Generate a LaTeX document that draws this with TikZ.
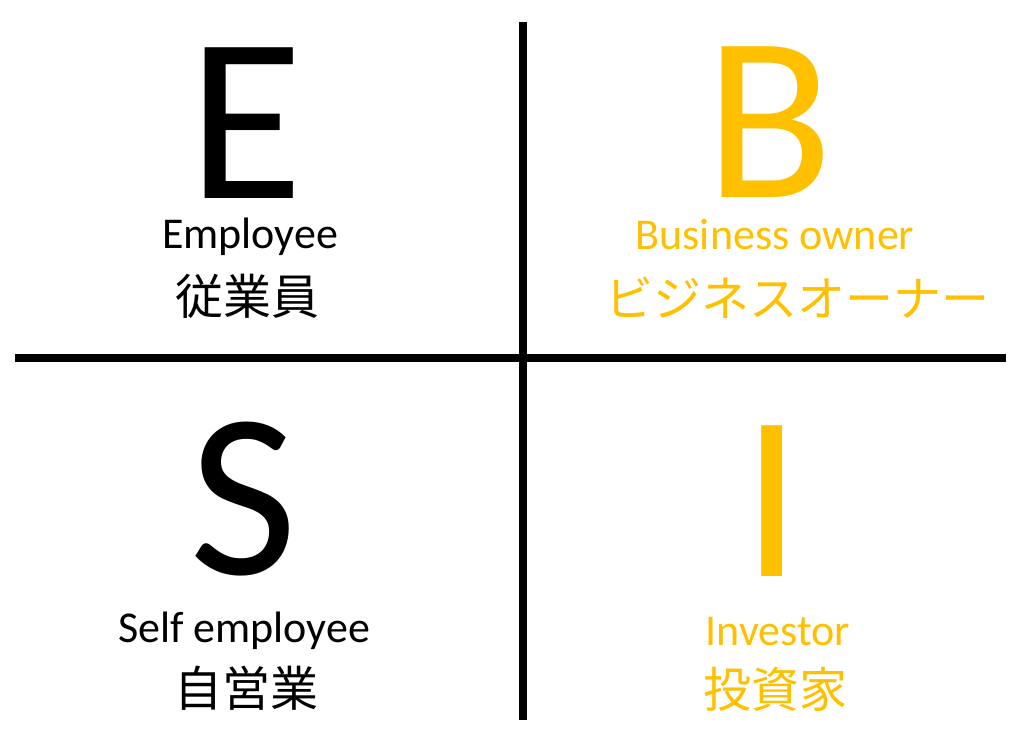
\documentclass[tikz,border=0pt]{standalone}
\usepackage{fontspec}
\setmainfont{Carlito}
\newfontfamily\jpfont{Noto Sans CJK JP}
\definecolor{gold}{HTML}{FFC000}
\begin{document}
\begin{tikzpicture}[x=1pt,y=-1pt,
  bigletter/.style={inner sep=0pt,anchor=base,text depth=0pt,font=\fontsize{235}{235}\selectfont},
  enlabel/.style={inner sep=0pt,anchor=base,font=\fontsize{44}{44}\selectfont},
  jplabel/.style={inner sep=0pt,anchor=center,font=\jpfont\fontsize{48}{48}\selectfont},
  axis/.style={line width=8.5pt}]
\useasboundingbox (0,0) rectangle (1024,741);
% axes
\coordinate (top) at (523,22);
\coordinate (bottom) at (523,720);
\coordinate (left) at (15,358);
\coordinate (right) at (1006,358);
\draw[axis] (top) -- (bottom);
\draw[axis] (left) -- (right);
% E quadrant
\node[bigletter] (E) at (246,198) {E};
\node[enlabel] (Elab) at (250,248) {Employee};
\node[jplabel] (Ejp) at (247,296) {従業員};
% B quadrant
\node[bigletter,text=gold] (B) at (769,197) {B};
\node[enlabel,text=gold] (Blab) at (775,249) {Business owner};
\node[jplabel,text=gold] (Bjp) at (797,298) {ビジネスオーナー};
% S quadrant
\node[bigletter] (S) at (243,574) {S};
\node[enlabel] (Slab) at (244,642) {Self employee};
\node[jplabel] (Sjp) at (246,688) {自営業};
% I quadrant
\node[bigletter,text=gold] (I) at (772,576) {I};
\node[enlabel,text=gold] (Ilab) at (778,645) {Investor};
\node[jplabel,text=gold] (Ijp) at (775,689) {投資家};
\end{tikzpicture}
\end{document}
